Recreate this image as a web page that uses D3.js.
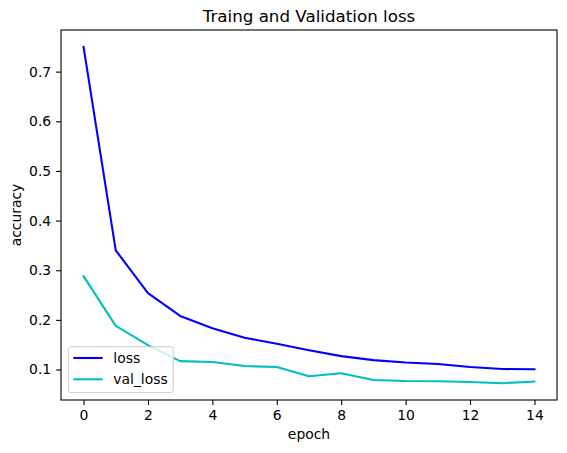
<!DOCTYPE html>
<html>
<head>
<meta charset="utf-8">
<script src="https://cdn.jsdelivr.net/npm/d3@7"></script>
<style>
	body { margin: 0; background: #fff; }
	text { font-family: "DejaVu Sans", sans-serif; fill: #000; }
</style>
</head>
<body>
<script>
var epochs = [0, 1, 2, 3, 4, 5, 6, 7, 8, 9, 10, 11, 12, 13, 14];
var loss = [0.750, 0.340, 0.254, 0.208, 0.183, 0.164, 0.152, 0.139, 0.127, 0.119, 0.114, 0.111, 0.105, 0.101, 0.1005];
var valLoss = [0.288, 0.188, 0.149, 0.117, 0.115, 0.107, 0.105, 0.0865, 0.0925, 0.079, 0.077, 0.0765, 0.075, 0.0725, 0.0758];
var xTicks = [0, 2, 4, 6, 8, 10, 12, 14];
var yTicks = [0.1, 0.2, 0.3, 0.4, 0.5, 0.6, 0.7];

var margin = {top: 30, right: 10, bottom: 53, left: 61},
	width = 567 - margin.left - margin.right,
	height = 453 - margin.top - margin.bottom;

// matplotlib style 5% padding on both axes
var xExt = d3.extent(epochs), xPad = (xExt[1] - xExt[0]) * 0.05;
var yExt = d3.extent(loss.concat(valLoss)), yPad = (yExt[1] - yExt[0]) * 0.05;

var x = d3.scaleLinear()
	.domain([xExt[0] - xPad, xExt[1] + xPad])
	.range([0, width]);

var y = d3.scaleLinear()
	.domain([yExt[0] - yPad, yExt[1] + yPad])
	.range([height, 0]);

var svg = d3.select("body").append("svg")
	.attr("width", 567)
	.attr("height", 453)
	.append("g")
	.attr("transform", "translate(" + margin.left + "," + margin.top + ")");

var line = d3.line()
	.x(function(d, i) { return x(epochs[i]); })
	.y(function(d) { return y(d); });

var series = [
	{name: "loss", values: loss, color: "#0000ff"},
	{name: "val_loss", values: valLoss, color: "#00bfbf"}
];

svg.selectAll(".series")
	.data(series)
	.enter().append("path")
	.attr("class", "series")
	.attr("d", function(d) { return line(d.values); })
	.attr("fill", "none")
	.attr("stroke", function(d) { return d.color; })
	.attr("stroke-width", 2.08)
	.attr("stroke-linejoin", "round")
	.attr("stroke-linecap", "square");

var xAxis = svg.append("g")
	.attr("transform", "translate(0," + height + ")")
	.call(d3.axisBottom(x).tickValues(xTicks).tickSize(4.9).tickPadding(4.9).tickFormat(d3.format("d")));

var yAxis = svg.append("g")
	.call(d3.axisLeft(y).tickValues(yTicks).tickSize(4.9).tickPadding(4.9).tickFormat(d3.format(".1f")));

[xAxis, yAxis].forEach(function(a) {
	a.select(".domain").remove();
	a.selectAll("line").attr("stroke", "#000").attr("stroke-width", 1.1);
	a.selectAll("text").style("font-size", "13.9px").style("font-family", "DejaVu Sans");
});

// frame
svg.append("rect")
	.attr("width", width)
	.attr("height", height)
	.attr("fill", "none")
	.attr("stroke", "#000")
	.attr("stroke-width", 1.1);

svg.append("text")
	.attr("x", width / 2)
	.attr("y", -8.5)
	.attr("text-anchor", "middle")
	.style("font-size", "16.7px")
	.text("Traing and Validation loss");

svg.append("text")
	.attr("x", width / 2)
	.attr("y", height + 39)
	.attr("text-anchor", "middle")
	.style("font-size", "13.9px")
	.text("epoch");

svg.append("text")
	.attr("transform", "translate(" + (-40) + "," + (height / 2) + ") rotate(-90)")
	.attr("text-anchor", "middle")
	.style("font-size", "13.9px")
	.text("accuracy");

// legend, lower left
var legend = svg.append("g")
	.attr("transform", "translate(7.3," + (height - 53.3) + ")");

legend.append("rect")
	.attr("width", 105)
	.attr("height", 46)
	.attr("rx", 3)
	.attr("fill", "#fff")
	.attr("fill-opacity", 0.8)
	.attr("stroke", "#cccccc")
	.attr("stroke-width", 1);

var item = legend.selectAll(".item")
	.data(series)
	.enter().append("g")
	.attr("class", "item")
	.attr("transform", function(d, i) { return "translate(0," + (11.3 + i * 21.3) + ")"; });

item.append("line")
	.attr("x1", 5)
	.attr("x2", 34.4)
	.attr("stroke", function(d) { return d.color; })
	.attr("stroke-width", 2.08);

item.append("text")
	.attr("x", 45)
	.attr("y", 5)
	.style("font-size", "13.9px")
	.text(function(d) { return d.name; });
</script>
</body>
</html>
